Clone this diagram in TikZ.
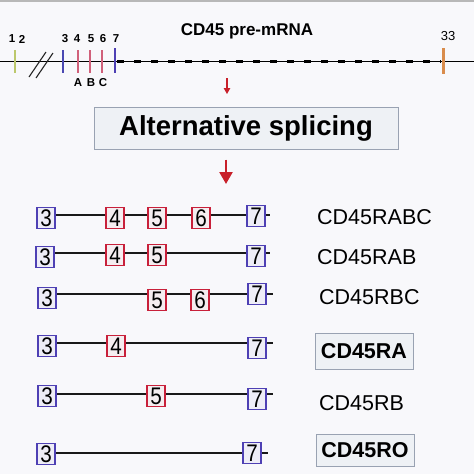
\documentclass[tikz,border=0pt]{standalone}
\usepackage{fontspec}
\setmainfont{Liberation Sans}
\usetikzlibrary{arrows.meta}
\definecolor{bgc}{HTML}{F8F8FB}
\definecolor{exblue}{HTML}{4E40B4}
\definecolor{exred}{HTML}{C8203A}
\definecolor{fillblue}{HTML}{EEEDF7}
\definecolor{fillred}{HTML}{F5EDF0}
\definecolor{tickgreen}{HTML}{BCC86C}
\definecolor{tickblue}{HTML}{4A48B2}
\definecolor{tickred}{HTML}{D0607A}
\definecolor{tickorange}{HTML}{D98C4C}
\definecolor{boxfill}{HTML}{EEF1F5}
\definecolor{boxline}{HTML}{99A2B2}
\definecolor{arrred}{HTML}{C8202A}
\newcommand{\exd}[1]{\scalebox{0.86}[1]{#1}}
\tikzset{
  exbox/.style={draw, line width=1.5pt, minimum width=18pt, minimum height=21pt, inner sep=0pt, font=\fontsize{24}{24}\selectfont},
  exb/.style={exbox, draw=exblue, fill=fillblue},
  exr/.style={exbox, draw=exred, fill=fillred},
  rowline/.style={line width=1.3pt, black!90},
  lbl/.style={anchor=west, inner sep=0pt, font=\fontsize{21.5}{21.5}\selectfont},
  lblbox/.style={draw=boxline, fill=boxfill, line width=1pt, minimum width=98pt, minimum height=36pt, inner sep=0pt, font=\fontsize{21.5}{21.5}\selectfont\bfseries},
  toplbl/.style={inner sep=0pt, font=\fontsize{11.5}{11.5}\selectfont\bfseries},
  tick/.style={line width=1.4pt},
  redarrow/.style={arrred, -{Triangle[length=6pt,width=6pt]}, line width=1pt},
}
\begin{document}
\begin{tikzpicture}[x=1pt,y=-1pt]
\fill[bgc] (0,0) rectangle (474,474);
\fill[black!28] (0,0) rectangle (474,2.2);
\useasboundingbox (0,0) rectangle (474,474);

% pre-mRNA
\coordinate (L0) at (0,61);
\coordinate (L1) at (474,61);
\draw[line width=0.8pt] (L0) -- (L1);
\coordinate (D0) at (117,61);
\coordinate (D1) at (441,61);
\draw[line width=3pt, dash pattern=on 7pt off 10pt] (D0) -- (D1);
\draw[tick, tickgreen] (15,50) -- (15,73);
\draw[line width=1.1pt, black!85] (29,77) -- (46,52);
\draw[line width=1.1pt, black!85] (36,78) -- (53,53);
\draw[tick, tickblue] (63,50) -- (63,73);
\draw[tick, tickred] (78,50) -- (78,73);
\draw[tick, tickred] (90,50) -- (90,73);
\draw[tick, tickred] (102,50) -- (102,73);
\draw[line width=2pt, exblue] (115,48) -- (115,73);
\draw[line width=3pt, tickorange] (443,48) -- (443,74);
\node[toplbl] (n1) at (12,39) {1};
\node[toplbl] (n2) at (22,39) {2};
\node[toplbl] (n3) at (65,39) {3};
\node[toplbl] (n4) at (77,39) {4};
\node[toplbl] (n5) at (91,39) {5};
\node[toplbl] (n6) at (103,39) {6};
\node[toplbl] (n7) at (116,39) {7};
\node[toplbl] (nA) at (78,83) {A};
\node[toplbl] (nB) at (91,83) {B};
\node[toplbl] (nC) at (103,83) {C};
\node[inner sep=0pt, font=\fontsize{13}{13}\selectfont] (n33) at (448,36) {33};
\node[inner sep=0pt, font=\fontsize{17}{17}\selectfont\bfseries] (title) at (247,31) {CD45 pre-mRNA};

% arrows and splicing box
\coordinate (a1s) at (227,78);
\coordinate (a1e) at (227,94);
\draw[redarrow, line width=1.2pt, -{Triangle[length=6pt,width=6.5pt]}] (a1s) -- (a1e);
\node[draw=boxline, fill=boxfill, line width=1pt, minimum width=304pt, minimum height=42pt, inner sep=0pt, font=\fontsize{27.5}{27.5}\selectfont\bfseries] (alt) at (246,128) {Alternative splicing};
\coordinate (a2e) at (226,184);
\draw[redarrow, line width=2.4pt, -{Triangle[length=12pt,width=13pt]}] ([yshift=-10pt]alt.south -| a2e) -- (a2e);

% Row 1: CD45RABC
\coordinate (r1s) at (46,215);
\coordinate (r1t) at (270,215);
\draw[rowline] (r1s) -- (r1t);
\node[exb] (r1e3) at (46,218) {\exd{3}};
\node[exr] (r1e4) at (115,218) {\exd{4}};
\node[exr] (r1e5) at (157,218) {\exd{5}};
\node[exr] (r1e6) at (201,218) {\exd{6}};
\node[exb] (r1e7) at (256,216) {\exd{7}};
\node[lbl] (r1l) at (317,217) {CD45RABC};

% Row 2: CD45RAB
\coordinate (r2s) at (45,253);
\coordinate (r2t) at (270,253);
\draw[rowline] (r2s) -- (r2t);
\node[exb] (r2e3) at (45,257) {\exd{3}};
\node[exr] (r2e4) at (115,255) {\exd{4}};
\node[exr] (r2e5) at (157,255) {\exd{5}};
\node[exb] (r2e7) at (256,256) {\exd{7}};
\node[lbl] (r2l) at (317,257) {CD45RAB};

% Row 3: CD45RBC
\coordinate (r3s) at (47,294);
\coordinate (r3t) at (273,294);
\draw[rowline] (r3s) -- (r3t);
\node[exb] (r3e3) at (47,298) {\exd{3}};
\node[exr] (r3e5) at (157,300) {\exd{5}};
\node[exr] (r3e6) at (200,300) {\exd{6}};
\node[exb] (r3e7) at (257,294) {\exd{7}};
\node[lbl] (r3l) at (319,297) {CD45RBC};

% Row 4: CD45RA
\coordinate (r4s) at (47,343);
\coordinate (r4t) at (273,343);
\draw[rowline] (r4s) -- (r4t);
\node[exb] (r4e3) at (47,346) {\exd{3}};
\node[exr] (r4e4) at (116,346) {\exd{4}};
\node[exb] (r4e7) at (257,348) {\exd{7}};
\node[lblbox] (r4l) at (364,351) {CD45RA};

% Row 5: CD45RB
\coordinate (r5s) at (47,394);
\coordinate (r5t) at (273,394);
\draw[rowline] (r5s) -- (r5t);
\node[exb] (r5e3) at (47,396) {\exd{3}};
\node[exr] (r5e5) at (156,396) {\exd{5}};
\node[exb] (r5e7) at (257,399) {\exd{7}};
\node[lbl] (r5l) at (319,403) {CD45RB};

% Row 6: CD45RO
\coordinate (r6s) at (46,453);
\coordinate (r6t) at (268,453);
\draw[rowline] (r6s) -- (r6t);
\node[exb] (r6e3) at (46,454) {\exd{3}};
\node[exb] (r6e7) at (252,453) {\exd{7}};
\node[lblbox, minimum height=32pt] (r6l) at (365,450) {CD45RO};
\end{tikzpicture}
\end{document}
